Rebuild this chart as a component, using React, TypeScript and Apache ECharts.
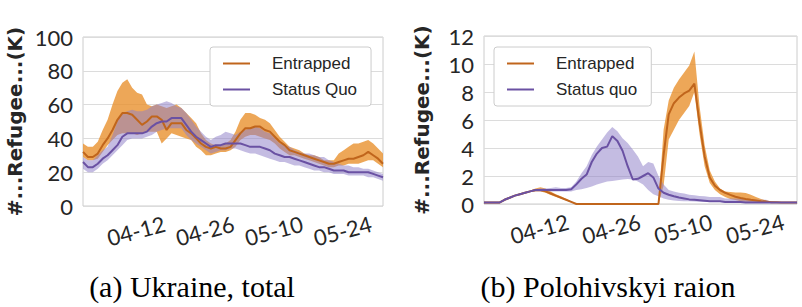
import React, { useEffect, useRef } from "react";
import * as echarts from "echarts";

// ---- data ----
const START = "04-01";
const END = "06-01";
const TICK_LABELS = ["04-12", "04-26", "05-10", "05-24"];
const CAPTIONS = ["(a) Ukraine, total", "(b) Polohivskyi raion"];
const Y_NAME = "#...Refugee...(K)";
const LEGEND_A = ["Entrapped", "Status Quo"];
const LEGEND_B = ["Entrapped", "Status quo"];

// (a) Ukraine, total — one value per day from 04-01 to 06-01
const A_ENT_MEAN = [32, 29, 29, 31, 36, 40, 45, 51, 55, 55, 54, 51, 48, 50, 53, 53, 51, 45, 49, 49, 49, 45, 43, 40, 37, 35, 34, 35, 34, 34, 35, 39, 43, 46, 46, 47, 47, 45, 44, 41, 38, 36, 33, 32, 31, 30, 29, 28, 27, 26, 25, 25, 26, 27, 28, 28, 29, 30, 32, 30, 28, 25];
const A_ENT_LO = [29, 27, 27, 28, 32, 36, 39, 42, 43, 43, 43, 42, 43, 44, 44, 44, 37, 40, 43, 42, 41, 40, 39, 35, 33, 30, 30, 31, 32, 32, 33, 35, 39, 41, 42, 42, 41, 40, 39, 37, 34, 32, 30, 30, 29, 28, 27, 26, 25, 24, 23, 23, 24, 24, 25, 25, 25, 26, 27, 27, 25, 23];
const A_ENT_HI = [37, 35, 35, 38, 45, 51, 60, 68, 73, 75, 70, 67, 66, 60, 59, 60, 59, 58, 59, 60, 58, 55, 52, 49, 43, 39, 37, 36, 36, 37, 39, 44, 51, 55, 55, 54, 52, 51, 49, 45, 41, 38, 35, 34, 33, 31, 30, 30, 29, 27, 27, 27, 31, 33, 35, 37, 37, 38, 39, 37, 34, 31];
const A_SQ_MEAN = [26, 23, 23, 25, 28, 30, 33, 36, 41, 43, 43, 43, 43, 44, 47, 49, 50, 50, 52, 52, 52, 48, 44, 41, 39, 37, 35, 36, 36, 37, 37, 37, 37, 36, 35, 35, 35, 34, 33, 31, 30, 29, 29, 28, 27, 26, 25, 24, 23, 23, 22, 21, 21, 21, 20, 20, 20, 20, 20, 19, 18, 17];
const A_SQ_LO = [22, 20, 20, 22, 25, 27, 30, 33, 36, 39, 40, 40, 40, 41, 42, 44, 45, 46, 46, 46, 46, 42, 39, 37, 35, 33, 31, 32, 33, 33, 34, 34, 33, 32, 31, 31, 30, 29, 28, 27, 26, 26, 25, 24, 24, 23, 22, 21, 21, 20, 20, 19, 19, 19, 18, 18, 18, 18, 17, 17, 16, 15];
const A_SQ_HI = [29, 27, 27, 30, 33, 35, 42, 50, 55, 56, 57, 56, 56, 57, 59, 60, 61, 62, 61, 59, 58, 55, 51, 47, 44, 41, 39, 41, 42, 44, 43, 42, 44, 45, 46, 47, 46, 44, 43, 40, 37, 36, 35, 33, 32, 31, 31, 30, 29, 29, 27, 26, 25, 24, 24, 23, 23, 22, 22, 21, 20, 19];

// (b) Polohivskyi raion
const B_ENT_MEAN = [0.1, 0.1, 0.1, 0.1, 0.3, 0.45, 0.6, 0.7, 0.8, 0.9, 1.0, 1.0, 0.9, 0.75, 0.6, 0.45, 0.3, 0.15, 0, 0, 0, 0, 0, 0, 0, 0, 0, 0, 0, 0, 0, 0, 0, 0, 0, 3.5, 6.4, 7.2, 7.6, 7.9, 8.1, 8.6, 5.8, 3.4, 1.9, 1.3, 1.0, 0.8, 0.65, 0.52, 0.43, 0.36, 0.3, 0.25, 0.2, 0.17, 0.13, 0.12, 0.11, 0.1, 0.1, 0.1];
const B_ENT_LO = [0.05, 0.05, 0.05, 0.05, 0.25, 0.4, 0.55, 0.65, 0.75, 0.85, 0.9, 0.9, 0.8, 0.65, 0.5, 0.4, 0.25, 0.1, 0, 0, 0, 0, 0, 0, 0, 0, 0, 0, 0, 0, 0, 0, 0, 0, 0, 1.3, 4.6, 5.3, 6.0, 6.5, 7.0, 8.0, 5.0, 2.7, 1.5, 1.0, 0.7, 0.5, 0.36, 0.28, 0.19, 0.16, 0.14, 0.12, 0.1, 0.09, 0.08, 0.08, 0.07, 0.07, 0.07, 0.07];
const B_ENT_HI = [0.15, 0.15, 0.15, 0.15, 0.35, 0.5, 0.65, 0.75, 0.85, 0.95, 1.1, 1.2, 1.1, 0.9, 0.7, 0.55, 0.35, 0.2, 0, 0, 0, 0, 0, 0, 0, 0, 0, 0, 0, 0, 0, 0, 0, 0, 0, 5.3, 7.4, 8.3, 8.9, 9.4, 9.9, 10.9, 7.0, 4.2, 2.4, 1.6, 1.1, 0.9, 0.85, 0.83, 0.83, 0.78, 0.66, 0.5, 0.36, 0.25, 0.19, 0.16, 0.15, 0.14, 0.13, 0.12];
const B_SQ_MEAN = [0.1, 0.1, 0.1, 0.1, 0.3, 0.45, 0.6, 0.7, 0.8, 0.9, 1.0, 1.0, 1.0, 1.0, 1.0, 1.0, 1.0, 1.05, 1.4, 1.8, 2.1, 3.0, 3.6, 4.0, 4.1, 4.85, 4.5, 3.8, 2.7, 1.75, 1.8, 2.0, 2.2, 1.9, 1.1, 0.8, 0.66, 0.55, 0.47, 0.4, 0.33, 0.3, 0.27, 0.24, 0.2, 0.2, 0.2, 0.15, 0.15, 0.15, 0.15, 0.1, 0.1, 0.1, 0.1, 0.1, 0.1, 0.1, 0.1, 0.1, 0.1, 0.1];
const B_SQ_LO = [0.05, 0.05, 0.05, 0.05, 0.25, 0.4, 0.55, 0.65, 0.75, 0.85, 0.9, 0.9, 0.9, 0.9, 0.9, 0.9, 0.9, 0.9, 1.0, 1.05, 1.15, 1.25, 1.4, 1.5, 1.6, 1.65, 1.7, 1.75, 1.78, 1.75, 1.6, 1.4, 1.0, 0.7, 0.55, 0.4, 0.3, 0.25, 0.22, 0.2, 0.19, 0.18, 0.16, 0.15, 0.14, 0.14, 0.14, 0.1, 0.1, 0.1, 0.1, 0.07, 0.07, 0.07, 0.07, 0.07, 0.07, 0.07, 0.07, 0.07, 0.07, 0.07];
const B_SQ_HI = [0.15, 0.15, 0.15, 0.15, 0.35, 0.5, 0.65, 0.75, 0.85, 0.95, 1.05, 1.1, 1.1, 1.15, 1.2, 1.15, 1.15, 1.2, 1.6, 2.2, 2.7, 3.5, 4.1, 4.6, 5.1, 5.5, 5.2, 4.7, 4.35, 3.9, 3.4, 2.7, 3.0, 2.9, 2.0, 1.4, 1.0, 0.9, 0.8, 0.75, 0.66, 0.62, 0.58, 0.55, 0.5, 0.5, 0.5, 0.4, 0.4, 0.4, 0.4, 0.3, 0.3, 0.3, 0.3, 0.3, 0.15, 0.15, 0.15, 0.15, 0.15, 0.15];

// ---- helpers ----
const dayOf = (s: string) => {
  const [m, d] = s.split("-").map(Number);
  const [m0, d0] = START.split("-").map(Number);
  return (Date.UTC(2022, m - 1, d) - Date.UTC(2022, m0 - 1, d0)) / 864e5;
};
const X_MAX = dayOf(END);

const ORANGE_LINE = "#c0651c";
const ORANGE_BAND = "#e8912e";
const PURPLE_LINE = "#6a51a3";
const PURPLE_BAND = "#8e7fc8";
const TXT = "#262626";
const TICK_FONT = "Lato, 'Open Sans', sans-serif";
const NAME_FONT = "'DejaVu Sans', sans-serif";

function band(g: number, id: string, lo: number[], hi: number[], color: string, opacity: number) {
  return {
    name: id,
    type: "custom",
    xAxisIndex: g,
    yAxisIndex: g,
    silent: true,
    clip: true,
    data: lo.map((v, i) => [i, v, hi[i]]),
    encode: { x: 0, y: [1, 2] },
    renderItem: (params: any, api: any) => {
      if (params.dataIndex !== 0) return null;
      const top = hi.map((v, i) => api.coord([i, v]));
      const bottom = lo.map((v, i) => api.coord([i, v])).reverse();
      return {
        type: "polygon",
        shape: { points: top.concat(bottom) },
        style: { fill: color, opacity, stroke: "none" },
      };
    },
  };
}

function meanLine(g: number, name: string, vals: number[], color: string) {
  return {
    name,
    type: "line",
    xAxisIndex: g,
    yAxisIndex: g,
    symbol: "none",
    color,
    lineStyle: { color, width: 2 },
    data: vals.map((v, i) => [i, v]),
  };
}

function xAxis(g: number) {
  const vals = TICK_LABELS.map(dayOf);
  return {
    type: "value",
    gridIndex: g,
    min: 0,
    max: X_MAX,
    axisLine: { show: false },
    axisTick: { show: false },
    splitLine: { show: false },
    axisLabel: {
      customValues: vals,
      rotate: 15,
      align: "center",
      verticalAlign: "top",
      margin: 13,
      padding: [0, 8, 0, 0],
      fontSize: 22,
      fontFamily: TICK_FONT,
      color: TXT,
      formatter: (v: number) => TICK_LABELS[vals.indexOf(v)] ?? "",
    },
  };
}

function yAxis(g: number, max: number, interval: number, gap: number) {
  return {
    type: "value",
    gridIndex: g,
    min: 0,
    max,
    interval,
    name: Y_NAME,
    nameLocation: "middle",
    nameGap: gap,
    nameTextStyle: { fontSize: 20, fontWeight: "bold", fontFamily: NAME_FONT, color: TXT },
    axisLine: { show: false },
    axisTick: { show: false },
    splitLine: { lineStyle: { color: "#dcdcdc", width: 1 } },
    axisLabel: { fontSize: 22, fontFamily: TICK_FONT, color: TXT, margin: 10 },
  };
}

function legend(names: string[], left: number, top: number) {
  return {
    data: names,
    orient: "vertical",
    left,
    top,
    itemWidth: 27,
    itemHeight: 2,
    icon: "rect",
    itemGap: 9,
    padding: [8, 14, 8, 13],
    borderColor: "#cccccc",
    borderWidth: 1,
    borderRadius: 3,
    backgroundColor: "#ffffff",
    selectedMode: false,
    textStyle: {
      fontSize: 17,
      fontFamily: "'Liberation Sans', Arial, sans-serif",
      color: TXT,
      padding: [0, 0, 0, 17],
    },
  };
}

export default function App() {
  const ref = useRef<HTMLDivElement>(null);
  useEffect(() => {
    document.body.style.margin = "0";
    const chart = echarts.init(ref.current!, undefined, { renderer: "svg" });
    const capStyle = { fontFamily: "'Liberation Serif', serif", fontSize: 30, fontWeight: "normal", color: "#000" };
    chart.setOption({
      animation: false,
      backgroundColor: "#ffffff",
      title: [
        { text: CAPTIONS[0], left: 187, textAlign: "center", top: 266, textStyle: capStyle },
        { text: CAPTIONS[1], left: 603, textAlign: "center", top: 266, textStyle: capStyle },
      ],
      grid: [
        { left: 83, top: 37, width: 300, height: 169, show: true, borderColor: "#cccccc", borderWidth: 1, backgroundColor: "transparent" },
        { left: 484, top: 36, width: 313, height: 168, show: true, borderColor: "#cccccc", borderWidth: 1, backgroundColor: "transparent" },
      ],
      xAxis: [xAxis(0), xAxis(1)],
      yAxis: [yAxis(0, 100, 20, 58), yAxis(1, 12, 2, 52)],
      legend: [legend(LEGEND_A, 210, 47), legend(LEGEND_B, 494, 47)],
      series: [
        band(0, "a-ent", A_ENT_LO, A_ENT_HI, ORANGE_BAND, 0.8),
        meanLine(0, LEGEND_A[0], A_ENT_MEAN, ORANGE_LINE),
        band(0, "a-sq", A_SQ_LO, A_SQ_HI, PURPLE_BAND, 0.52),
        meanLine(0, LEGEND_A[1], A_SQ_MEAN, PURPLE_LINE),
        band(1, "b-ent", B_ENT_LO, B_ENT_HI, ORANGE_BAND, 0.8),
        meanLine(1, LEGEND_B[0], B_ENT_MEAN, ORANGE_LINE),
        band(1, "b-sq", B_SQ_LO, B_SQ_HI, PURPLE_BAND, 0.52),
        meanLine(1, LEGEND_B[1], B_SQ_MEAN, PURPLE_LINE),
      ],
    });
    return () => chart.dispose();
  }, []);
  return <div ref={ref} style={{ width: 802, height: 307 }} />;
}
